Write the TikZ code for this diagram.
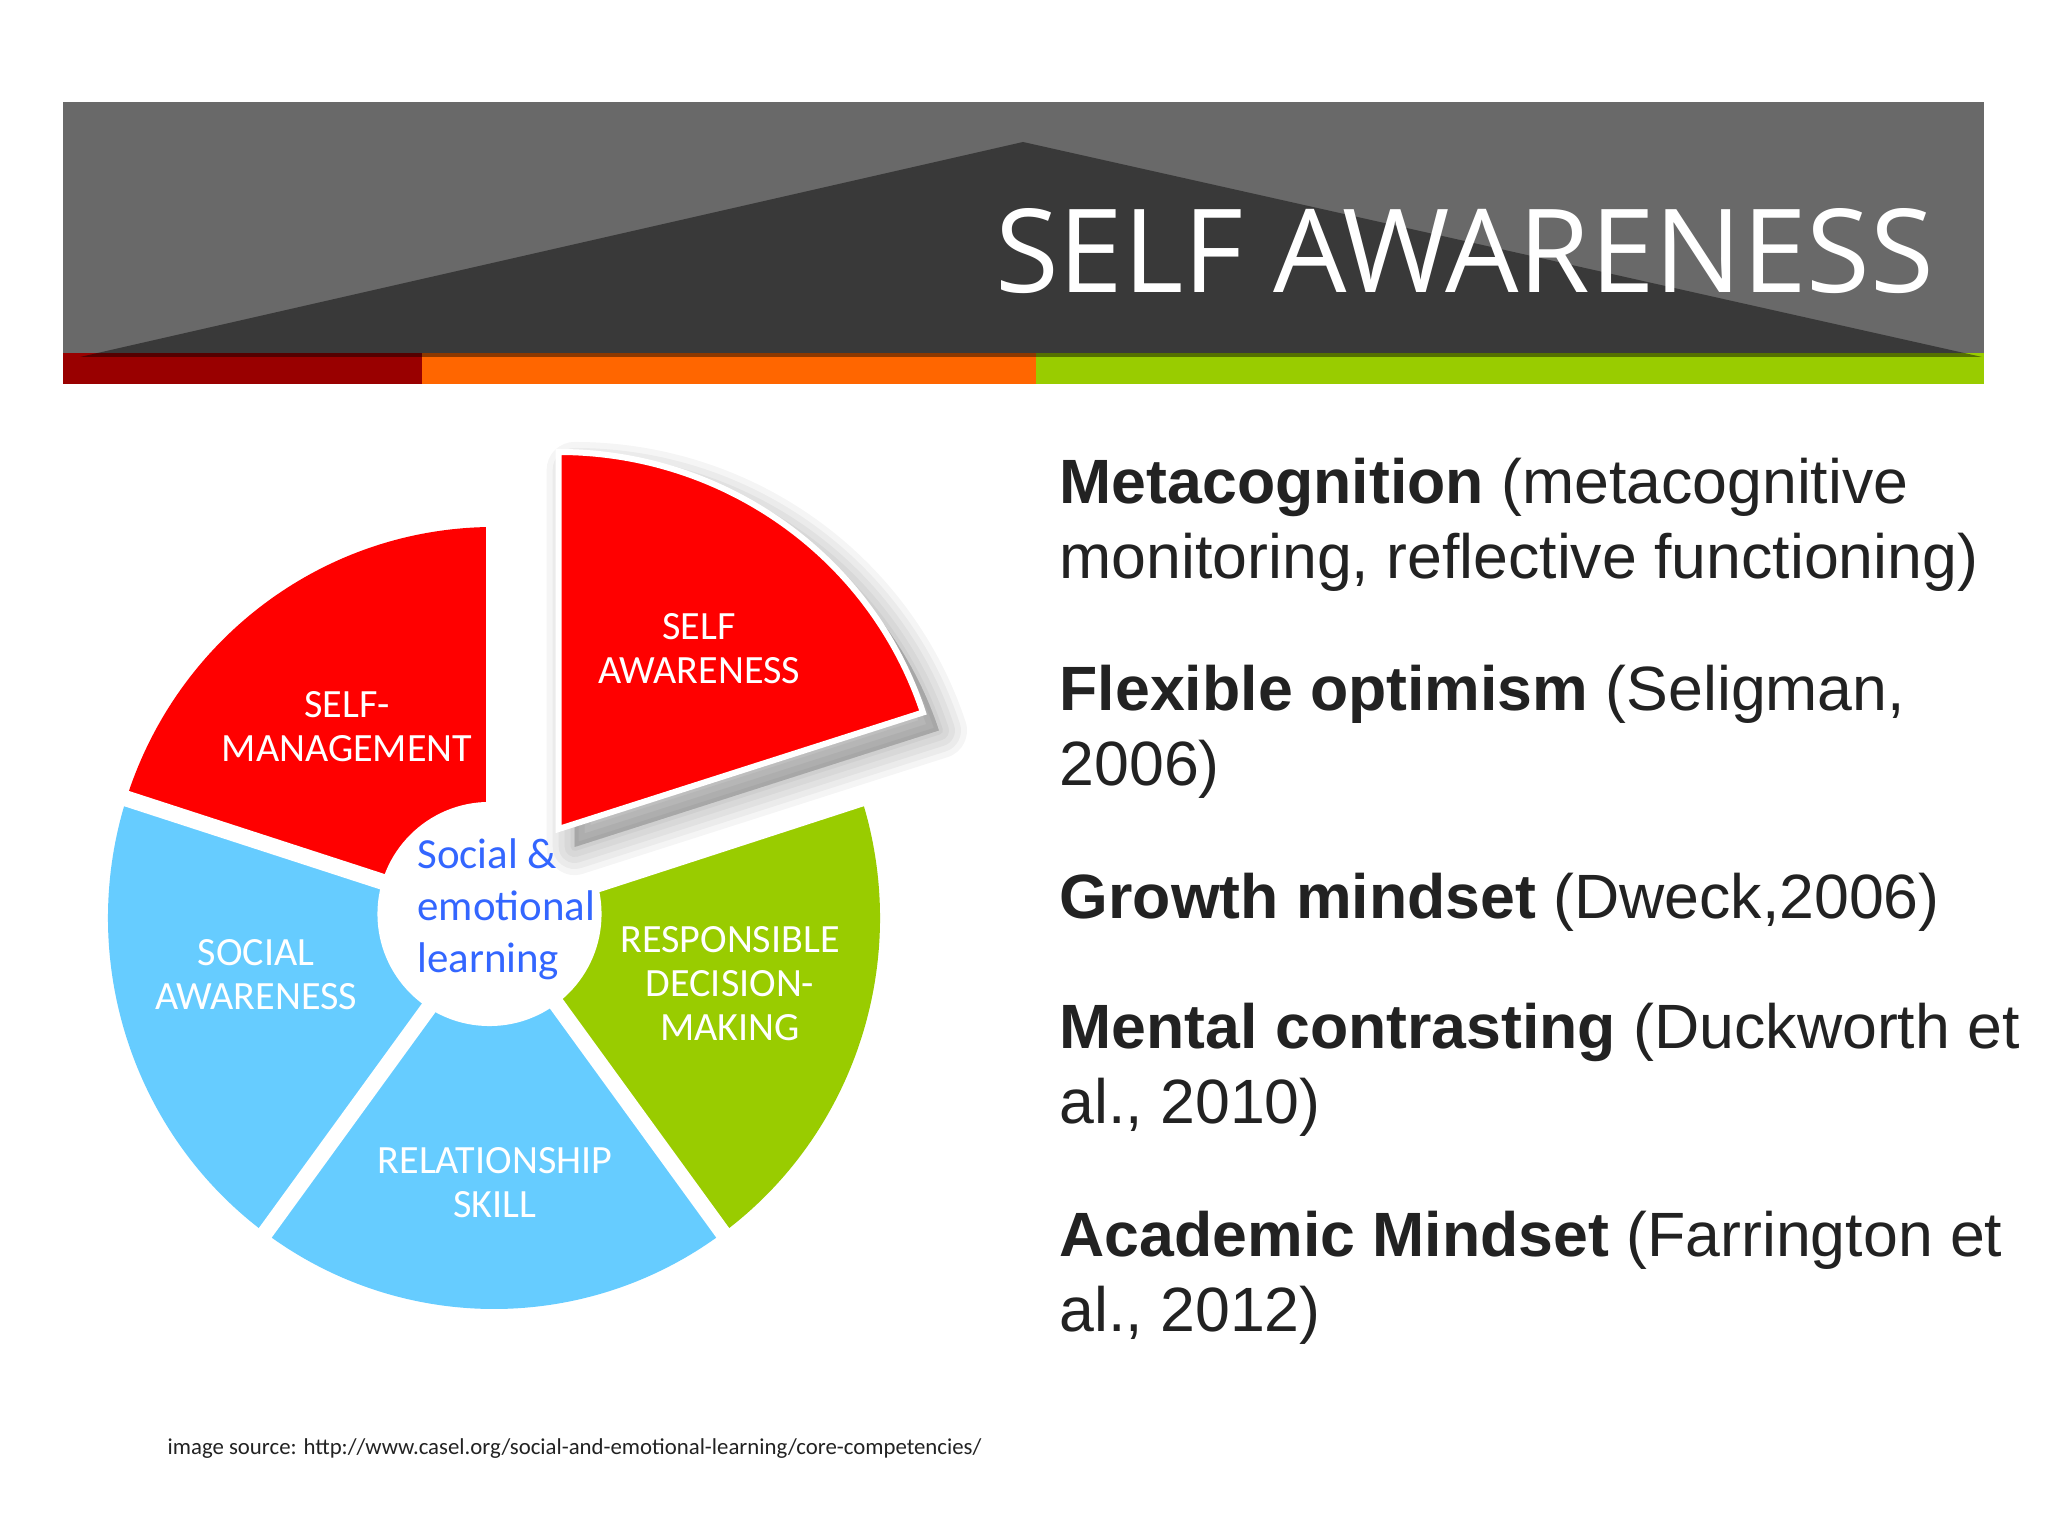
\documentclass[tikz,border=0pt]{standalone}
\usepackage{fontspec}
\setmainfont{Liberation Sans}
\newfontfamily\calibri{Carlito}
\newfontfamily\titlefont{Open Sans}
\usetikzlibrary{positioning}
\definecolor{HeadGray}{HTML}{696969}
\definecolor{BarRed}{HTML}{990000}
\definecolor{BarOrange}{HTML}{FF6600}
\definecolor{BarGreen}{HTML}{99CC00}
\definecolor{WedgeRed}{HTML}{FF0000}
\definecolor{WedgeBlue}{HTML}{66CCFF}
\definecolor{WedgeGreen}{HTML}{99CC00}
\definecolor{CoreBlue}{HTML}{3366FF}
\definecolor{Ink}{HTML}{222222}

\begin{document}
\begin{tikzpicture}[x=0.01cm,y=0.01cm,
  wedgelabel/.style={text=white,align=center,inner sep=0pt,anchor=base,font=\calibri\fontsize{11.4}{12.6}\selectfont},
  itemtext/.style={text=Ink,align=left,inner sep=0pt,anchor=base west,font=\fontsize{17.8}{21.34}\selectfont},
  gapline/.style={white,line width=0.16cm}]
  \useasboundingbox[fill=white] (0,0) rectangle (2048,1536);
  % header band
  \fill[HeadGray] (63,1183) rectangle (1984,1434);
  \fill[BarRed] (63,1152) rectangle (422,1183);
  \fill[BarOrange] (422,1152) rectangle (1036,1183);
  \fill[BarGreen] (1036,1152) rectangle (1984,1183);
  \fill[black,opacity=0.45] (80,1179) -- (1023,1394) -- (1982,1179) -- cycle;
  \node[anchor=base east,text=white,inner sep=0pt,font=\titlefont\fontsize{33}{34}\selectfont] (title) at (1935,1243) {SELF AWARENESS};
  % wheel
  \coordinate (pie) at (494,618);
  \foreach \a/\c in {90/WedgeRed,162/WedgeBlue,234/WedgeBlue,306/WedgeGreen}
    \fill[\c] (pie) -- +(\a:386 and 391) arc[start angle=\a,delta angle=72,x radius=386,y radius=391] -- cycle;
  \foreach \a in {18,90,162,234,306}
    \draw[gapline] (pie) -- +(\a:430 and 430);
  \node[circle,fill=white,minimum size=2.24cm,inner sep=0pt] (core) at (489.5,622) {};
  % pulled-out wedge with its shadow
  \coordinate (sa) at (558.7,707);
  \foreach \w in {0.56cm,0.44cm,0.32cm,0.2cm,0.08cm}
    \draw[line width=\w,black,opacity=0.04,fill=black,line join=round] ([shift={(16,-18)}]sa) -- +(18:383 and 377) arc[start angle=18,end angle=90,x radius=383,y radius=377] -- cycle;
  \draw[white,line width=0.06cm,fill=WedgeRed] (sa) -- +(18:383 and 377) arc[start angle=18,end angle=90,x radius=383,y radius=377] -- cycle;
  % wedge labels (base = last line)
  \node[wedgelabel] (selfaw) at (699,852) {SELF\\AWARENESS};
  \node[wedgelabel] (selfman) at (347,774) {SELF-\\MANAGEMENT};
  \node[wedgelabel] (socaw) at (256,526) {SOCIAL\\AWARENESS};
  \node[wedgelabel] (decide) at (730,495) {RESPONSIBLE\\DECISION-\\MAKING};
  \node[wedgelabel] (relate) at (495,318) {RELATIONSHIP\\SKILL};
  \node[text=CoreBlue,align=left,inner sep=0pt,anchor=base west,font=\calibri\fontsize{12.2}{14.8}\selectfont] (corelabel) at (416.7,563.5) {Social \&\\emotional\\learning};
  % list on the right
  \node[itemtext] (meta) at (1059,957) {\textbf{Metacognition} (metacognitive\\monitoring, reflective functioning)};
  \node[itemtext] (optim) at (1059,750) {\textbf{Flexible optimism} (Seligman,\\2006)};
  \node[itemtext] (growth) at (1059,617) {\textbf{Growth mindset} (Dweck,2006)};
  \node[itemtext] (contrast) at (1059,412) {\textbf{Mental contrasting} (Duckworth et\\al., 2010)};
  \node[itemtext] (academic) at (1059,204) {\textbf{Academic Mindset} (Farrington et\\al., 2012)};
  \node[anchor=base west,inner sep=0pt,text=Ink,font=\calibri\fontsize{6.48}{7}\selectfont] (source) at (167,81) {image source: http://www.casel.org/social-and-emotional-learning/core-competencies/};
\end{tikzpicture}
\end{document}
